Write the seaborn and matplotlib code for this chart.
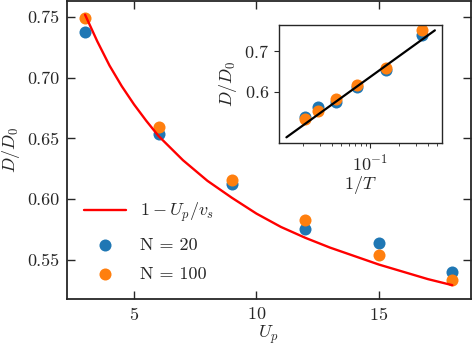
import numpy as np
import pandas as pd
import matplotlib
matplotlib.use("Agg")
import matplotlib.pyplot as plt
import seaborn as sns

# ---- data ----
up = [3, 6, 9, 12, 15, 18]
d_n20 = [0.7376, 0.654, 0.612, 0.5752, 0.564, 0.5398]
d_n100 = [0.749, 0.659, 0.6157, 0.5827, 0.5538, 0.5332]

curve_up = [3, 3.5, 4, 4.5, 5, 5.5, 6, 7, 8, 9, 10, 11, 12, 13, 14, 15, 16, 17, 18]
curve_d = [0.752, 0.730, 0.710, 0.693, 0.678, 0.6645, 0.652, 0.632, 0.615, 0.601,
           0.588, 0.577, 0.568, 0.560, 0.553, 0.546, 0.540, 0.534, 0.529]

inv_t = [0.349, 0.1455, 0.0738, 0.0442, 0.0286, 0.0208]  # paired with up order
fit_x = [0.0134, 0.473]
fit_y = [0.490, 0.749]

xticks_main = [5, 10, 15]
yticks_main = [0.55, 0.60, 0.65, 0.70, 0.75]
yticks_inset = [0.6, 0.7]

blue = "#1f77b4"
orange = "#ff7f0e"
FS = 13

sns.set_style("ticks")
plt.rcParams["font.family"] = ["serif"]
plt.rcParams["font.serif"] = ["cmr10", "DejaVu Serif"]
plt.rcParams["mathtext.fontset"] = "cm"
plt.rcParams["axes.formatter.use_mathtext"] = True
plt.rcParams["font.size"] = FS
plt.rcParams["axes.unicode_minus"] = False

fig = plt.figure(figsize=(4.74, 3.48), dpi=100)
ax = fig.add_axes([0.1407, 0.1417, 0.8523, 0.855])

sns.lineplot(x=curve_up, y=curve_d, color="red", lw=1.7, label=r"$1-U_p/v_s$",
             ax=ax, zorder=3, sort=False)
sns.scatterplot(x=up, y=d_n20, color=blue, s=75, linewidth=0, label="N = 20",
                ax=ax, zorder=2)
sns.scatterplot(x=up, y=d_n100, color=orange, s=75, linewidth=0, label="N = 100",
                ax=ax, zorder=2)

ax.set_xticks(xticks_main)
ax.set_yticks(yticks_main)
ax.set_yticklabels([f"{v:.2f}" for v in yticks_main])
ax.set_xlabel(r"$U_p$", fontsize=FS, labelpad=1)
ax.set_ylabel(r"$D/D_0$", fontsize=FS)
ax.tick_params(direction="in", top=True, right=True, length=6, width=1.0,
               labelsize=FS, pad=5)
for s in ax.spines.values():
    s.set_linewidth(1.3)
    s.set_visible(True)
ax.legend(loc="lower left", frameon=False, fontsize=FS, handlelength=2.35,
          handletextpad=0.75, borderaxespad=0.55, labelspacing=0.72)

# ---- inset ----
axi = fig.add_axes([0.5886, 0.590, 0.3445, 0.3382])
sns.lineplot(x=fit_x, y=fit_y, color="black", lw=1.6, ax=axi, zorder=3, sort=False)
sns.scatterplot(x=inv_t, y=d_n20, color=blue, s=75, linewidth=0, ax=axi, zorder=2)
sns.scatterplot(x=inv_t, y=d_n100, color=orange, s=75, linewidth=0, ax=axi, zorder=2)
axi.set_xscale("log")
axi.set_yticks(yticks_inset)
axi.set_xlabel(r"$1/T$", fontsize=FS, labelpad=1)
axi.set_ylabel(r"$D/D_0$", fontsize=FS)
axi.tick_params(labelsize=FS)
for s in axi.spines.values():
    s.set_linewidth(1.0)
    s.set_visible(True)

fig.savefig("out.png", dpi=100)
